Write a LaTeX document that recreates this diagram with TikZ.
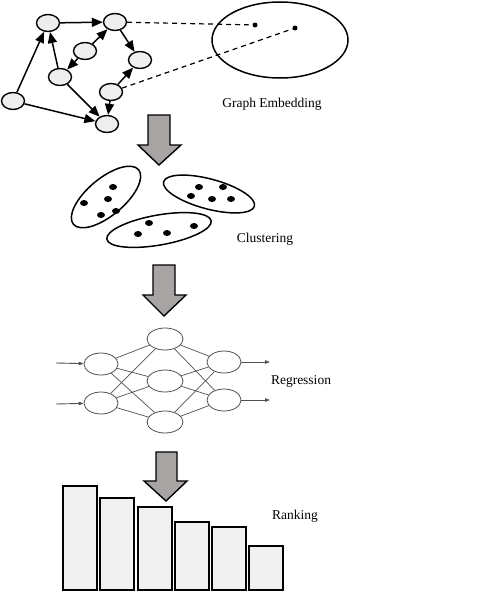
\documentclass[tikz,border=0pt]{standalone}
\usepackage{fontspec}
\setmainfont{Liberation Serif}
\usetikzlibrary{arrows.meta,shapes.geometric}
\definecolor{nodefill}{HTML}{EEEEEE}
\definecolor{blockgray}{HTML}{A8A4A4}
\definecolor{barfill}{HTML}{F0F0F0}
\definecolor{nngray}{HTML}{505050}
\begin{document}
\begin{tikzpicture}[x=1pt,y=-1pt,
  gnode/.style={ellipse,draw,fill=nodefill,line width=1.4pt,minimum width=23pt,minimum height=17pt,inner sep=0pt},
  gedge/.style={line width=1.5pt,-{Triangle[length=11pt,width=9pt]}},
  dashedge/.style={line width=1.2pt,dash pattern=on 5pt off 4pt},
  edot/.style={circle,fill=black,inner sep=0pt,minimum size=5pt},
  cluster/.style={ellipse,draw,line width=1.5pt,inner sep=0pt},
  cdot/.style={ellipse,fill=black,inner sep=0pt,minimum width=8pt,minimum height=6pt},
  lbl/.style={font=\fontsize{13.5}{16}\selectfont,inner sep=0pt},
  block/.style={draw,fill=blockgray,line width=1.4pt,line join=miter},
  nnode/.style={ellipse,draw=nngray,line width=0.8pt,minimum height=22pt,inner sep=0pt},
  nnedge/.style={draw=nngray,line width=0.7pt},
  nnarrow/.style={draw=nngray,line width=0.9pt,-{Triangle[length=5pt,width=3.5pt]}},
  bar/.style={draw,fill=barfill,line width=1.6pt}
]
\useasboundingbox (0,0) rectangle (478,597);

% ---------- graph ----------
\node[gnode] (A) at (48,23) {};
\node[gnode] (B) at (115,22) {};
\node[gnode] (C) at (85,51) {};
\node[gnode] (D) at (140,60) {};
\node[gnode] (E) at (60,77) {};
\node[gnode] (F) at (111,92) {};
\node[gnode] (G) at (13,101) {};
\node[gnode] (H) at (107,124) {};
\draw[gedge] (A) -- (B);
\draw[gedge] (G) -- (A);
\draw[gedge] (E) -- (A);
\draw[gedge] (C) -- (B);
\draw[gedge] (C) -- (E);
\draw[gedge] (B) -- (D);
\draw[gedge] (F) -- (D);
\draw[gedge] (F) -- (H);
\draw[gedge] (E) -- (H);
\draw[gedge] (G) -- (H);

% ---------- embedding ----------
\node[ellipse,draw,line width=1.5pt,minimum width=136pt,minimum height=76pt,inner sep=0pt] (emb) at (280,40) {};
\node[edot] (p1) at (255,25) {};
\node[edot] (p2) at (295,28) {};
\draw[dashedge] (B) -- (p1);
\draw[dashedge] (F) -- (p2);
\node[lbl] (t1) at (272,104) {Graph Embedding};

% ---------- arrow 1 ----------
\draw[block] (148,115) -- (170,115) -- (170,145) -- (181,145) -- (159,165) -- (138,145) -- (148,145) -- cycle;

% ---------- clusters ----------
\node[cluster,minimum width=85pt,minimum height=37pt,rotate=40] (c1) at (106,197) {};
\node[cluster,minimum width=94pt,minimum height=30pt,rotate=-15] (c2) at (209,194) {};
\node[cluster,minimum width=106pt,minimum height=30pt,rotate=10] (c3) at (159,230) {};
\foreach \p in {(113,187),(84,203),(108,199),(101,215),(116,211)} \node[cdot] at \p {};
\foreach \p in {(199,187),(223,187),(191,196),(212,199),(231,199)} \node[cdot] at \p {};
\foreach \p in {(149,223),(138,234),(167,233),(194,226)} \node[cdot] at \p {};
\node[lbl] (t2) at (265,239) {Clustering};

% ---------- arrow 2 ----------
\draw[block] (153,265) -- (175,265) -- (175,295) -- (186,295) -- (164,316) -- (143,295) -- (153,295) -- cycle;

% ---------- neural network ----------
\node[nnode,minimum width=34pt] (i1) at (101,364) {};
\node[nnode,minimum width=34pt] (i2) at (101,403) {};
\node[nnode,minimum width=36pt] (h1) at (165,339) {};
\node[nnode,minimum width=36pt] (h2) at (165,381) {};
\node[nnode,minimum width=36pt] (h3) at (165,422) {};
\node[nnode,minimum width=34pt] (o1) at (224,362) {};
\node[nnode,minimum width=34pt] (o2) at (224,400) {};
\foreach \a in {i1,i2} \foreach \b in {h1,h2,h3} \draw[nnedge] (\a) -- (\b);
\foreach \a in {h1,h2,h3} \foreach \b in {o1,o2} \draw[nnedge] (\a) -- (\b);
\coordinate (in1) at (56,363);
\coordinate (in2) at (56,404);
\coordinate (out1) at (270,362);
\coordinate (out2) at (270,400);
\draw[nnarrow] (in1) -- (i1);
\draw[nnarrow] (in2) -- (i2);
\draw[nnarrow] (o1) -- (out1);
\draw[nnarrow] (o2) -- (out2);
\node[lbl] (t3) at (301,381) {Regression};

% ---------- bars ----------
\draw[bar] (63,486) rectangle (97,590);
\draw[bar] (100,498) rectangle (134,590);
\draw[bar] (138,507) rectangle (172,590);
\draw[bar] (175,522) rectangle (209,590);
\draw[bar] (212,527) rectangle (246,590);
\draw[bar] (249,546) rectangle (283,590);

% ---------- arrow 3 ----------
\draw[block] (156,452) -- (177,452) -- (177,481) -- (187,481) -- (166,501) -- (144,481) -- (156,481) -- cycle;
\node[lbl] (t4) at (295,516) {Ranking};
\end{tikzpicture}
\end{document}
